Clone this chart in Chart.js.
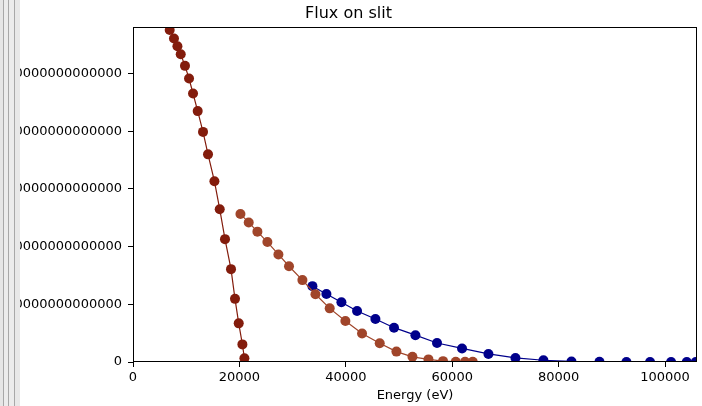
<!DOCTYPE html>
<html lang="en">
<head>
<meta charset="UTF-8">
<title>Flux on slit</title>
<style>
  body { margin: 0; background: #fff; }
  #wrap { position: relative; width: 702px; height: 406px; }
  #side {
    position: absolute; left: 0; top: 0; width: 20px; height: 406px;
    background: linear-gradient(to right,
      #e6e6e6 0px, #e6e6e6 3px, #a8a8a8 3px, #a8a8a8 4px,
      #ececec 4px, #ececec 8px, #a8a8a8 8px, #a8a8a8 9px,
      #ececec 9px, #ececec 14px, #a8a8a8 14px, #a8a8a8 15px,
      #e8e8e8 15px, #e8e8e8 20px);
  }
</style>
</head>
<body>
<div id="wrap">
  <canvas id="flux" width="702" height="406"></canvas>
  <div id="side"></div>
</div>
<script src="https://cdn.jsdelivr.net/npm/chart.js"></script>
<script>
// energies in eV, flux values
const redEnergy = [5900, 6900, 7700, 8350, 8970, 9770, 10530, 11280, 12160, 13160, 14100,
  15300, 16300, 17290, 18420, 19170, 19870, 20560, 20940];
const redFlux = [5.95e13, 5.755e13, 5.61e13, 5.475e13, 5.335e13, 5.135e13, 4.915e13, 4.655e13,
  4.35e13, 3.99e13, 3.60e13, 3.135e13, 2.65e13, 2.13e13, 1.61e13, 1.095e13, 0.67e13, 0.305e13, 0.065e13];

const siennaEnergy = [20190, 21750, 23380, 25260, 27330, 29320, 31840, 34290, 36970, 39920,
  43050, 46370, 49510, 52520, 55530, 58270, 60660, 62410, 63850];
const siennaFlux = [2.565e13, 2.42e13, 2.26e13, 2.08e13, 1.865e13, 1.66e13, 1.42e13, 1.175e13,
  0.93e13, 0.71e13, 0.495e13, 0.325e13, 0.18e13, 0.09e13, 0.045e13, 0.015e13, 0.005e13, 0.005e13, 0.0025e13];

const navyEnergy = [33720, 36350, 39170, 42110, 45560, 49060, 53080, 57140, 61840, 66800,
  71880, 77140, 82410, 87670, 92740, 97180, 101130, 104080, 105770, 107500];
const navyFlux = [1.315e13, 1.18e13, 1.035e13, 0.885e13, 0.745e13, 0.595e13, 0.465e13, 0.33e13,
  0.235e13, 0.14e13, 0.07e13, 0.03e13, 0.01e13, 0.0025e13, 0.001e13, 0.0005e13, 0.0005e13,
  0.0005e13, 0.0005e13, 0.0005e13];

const xTicks = [0, 20000, 40000, 60000, 80000, 100000];
const yTicks = [0, 1e13, 2e13, 3e13, 4e13, 5e13];

function toPoints(xs, ys) {
  return xs.map((x, i) => ({ x: x, y: ys[i] }));
}

function series(xs, ys, color) {
  return {
    data: toPoints(xs, ys),
    borderColor: color,
    backgroundColor: color,
    pointBackgroundColor: color,
    pointBorderWidth: 0,
    pointRadius: 5,
    borderWidth: 1.2,
    tension: 0
  };
}

// box around the plot area, like matplotlib
const frame = {
  id: 'frame',
  afterDraw(chart) {
    const a = chart.chartArea;
    const c = chart.ctx;
    c.save();
    c.strokeStyle = '#000';
    c.lineWidth = 1;
    c.strokeRect(Math.round(a.left) + 0.5, Math.round(a.top) + 0.5,
      Math.round(a.right - a.left) - 1, Math.round(a.bottom - a.top) - 1);
    c.restore();
  }
};

Chart.defaults.font.family = 'DejaVu Sans';
Chart.defaults.font.size = 13;
Chart.defaults.color = '#000';

new Chart(document.getElementById('flux'), {
  type: 'line',
  data: {
    datasets: [
      series(redEnergy, redFlux, '#831c0c'),
      series(siennaEnergy, siennaFlux, '#a0452a'),
      series(navyEnergy, navyFlux, '#00008b')
    ]
  },
  options: {
    responsive: false,
    animation: false,
    devicePixelRatio: 1,
    layout: { padding: { left: 0, right: 5, top: 0, bottom: 0 } },
    plugins: {
      legend: { display: false },
      tooltip: { enabled: false },
      title: {
        display: true,
        text: 'Flux on slit',
        color: '#000',
        font: { size: 16, weight: 'normal' },
        padding: { top: 4, bottom: 4 }
      }
    },
    scales: {
      x: {
        type: 'linear',
        min: 0,
        max: 106000,
        afterBuildTicks(s) { s.ticks = xTicks.map(v => ({ value: v })); },
        afterFit(s) { s.height = 44; },
        border: { display: false },
        grid: { drawOnChartArea: false, drawTicks: true, tickLength: 5, color: '#000' },
        ticks: {
          padding: 3,
          maxRotation: 0,
          autoSkip: false,
          callback: v => String(v)
        },
        title: { display: true, text: 'Energy (eV)', padding: { top: 0, bottom: 3 } }
      },
      y: {
        type: 'linear',
        min: 0,
        max: 5.805e13,
        afterBuildTicks(s) { s.ticks = yTicks.map(v => ({ value: v })); },
        afterFit(s) { s.width = 133; },
        border: { display: false },
        grid: { drawOnChartArea: false, drawTicks: true, tickLength: 5, color: '#000' },
        ticks: {
          padding: 6,
          autoSkip: false,
          callback: v => v.toFixed(0)
        }
      }
    }
  },
  plugins: [frame]
});
</script>
</body>
</html>
